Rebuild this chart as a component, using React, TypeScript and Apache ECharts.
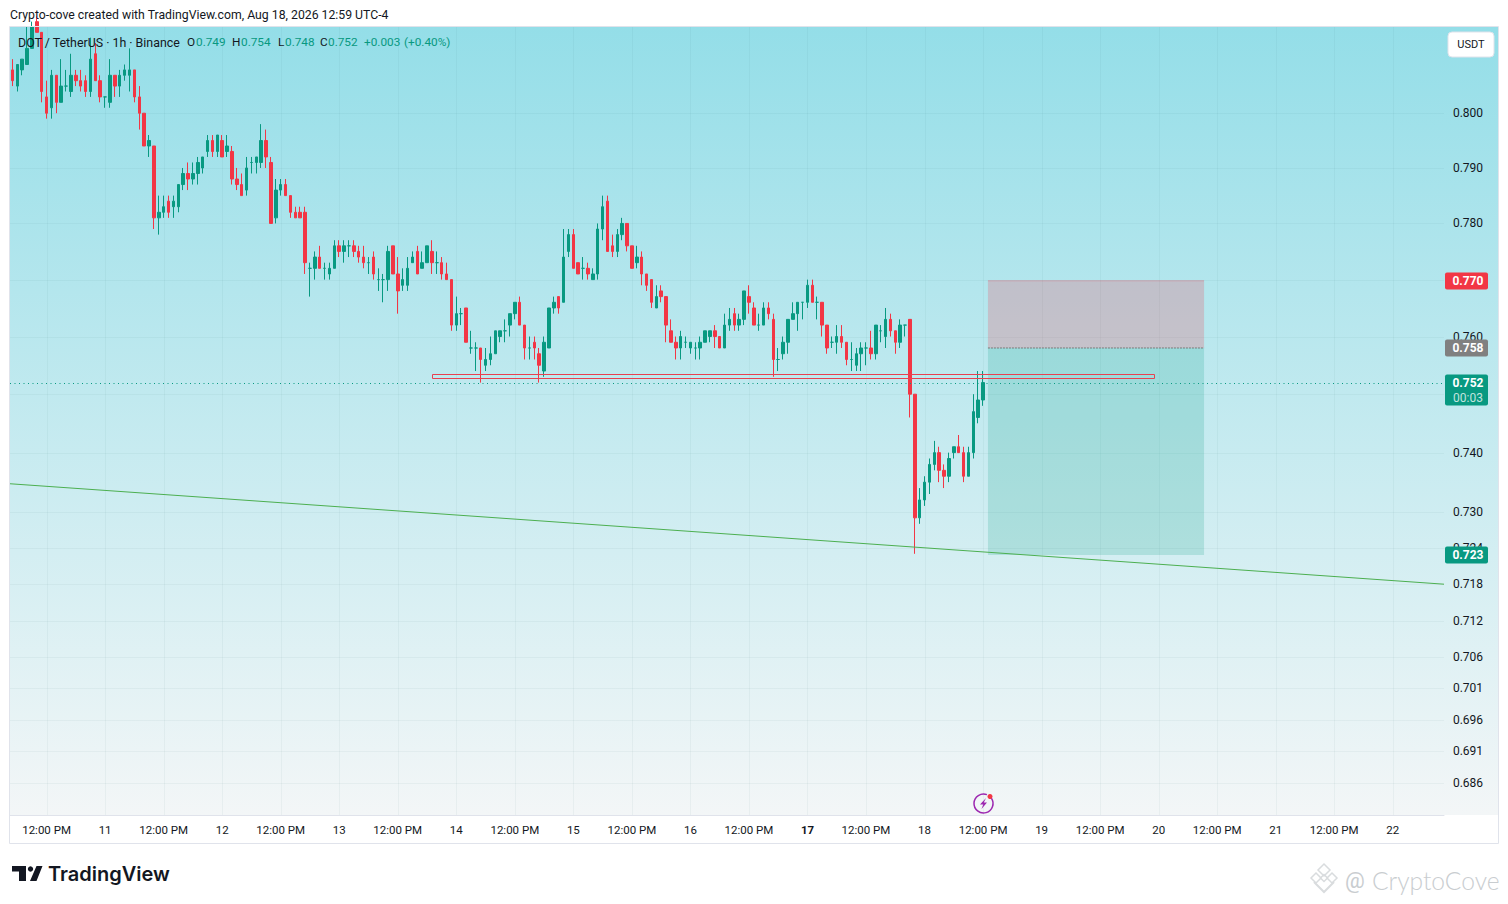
import React, { useEffect, useRef } from "react";
import * as echarts from "echarts";

// OHLC rows in thousandths of a USDT: [open, close, low, high]
const candlesA = [
  [808,806,805,810],[805,809,804,809],[808,810,807,810],[809,812,809,816],[812,816,812,817],[817,815,815,818],
  [815,804,802,815],[803,800,799,806],[801,807,799,808],[807,802,800,807],[802,805,802,810],[805,805,804,808],
  [804,807,803,811],[807,806,805,808],[806,805,804,808],[806,804,803,807],[804,810,803,814],[811,806,806,813],
  [806,803,802,807],[803,803,801,803],[802,807,801,810],[807,805,803,807],[805,807,803,808],[807,808,806,809],
  [807,808,804,812],[808,803,802,808],[803,800,797,805],[800,794,794,800],[794,795,792,796],[794,781,779,794],
  [781,782,778,785],[782,783,781,785],[784,782,781,785],[783,784,781,785],
];
const candlesB = [
  [783,787,782,787],[787,789,786,790],[789,788,786,791],[788,789,787,791],[789,791,787,792],[790,792,789,792],
  [793,795,792,796],[795,793,792,796],[793,796,792,796],[795,792,792,796],[793,794,792,796],[793,788,787,794],
  [788,787,786,790],[787,785,785,789],[786,790,785,792],[791,791,789,792],[791,792,789,792],[791,795,790,798],
  [795,792,790,797],[791,780,780,792],[781,786,780,788],[786,787,785,788],[787,785,785,788],[785,782,781,785],
  [782,781,781,783],[782,781,781,783],[782,773,771,783],[772,772,767,773],[772,774,770,775],[774,772,772,776],
  [772,772,770,773],[771,772,770,773],[772,776,772,777],[776,775,774,777],
];
const candlesC = [
  [775,776,773,777],[776,776,774,777],[776,775,774,777],[775,774,773,776],[774,773,772,776],[773,773,771,774],
  [774,771,770,775],[770,770,768,772],[770,770,766,771],[770,775,768,776],[776,771,771,776],[771,768,764,774],
  [769,770,768,772],[769,772,768,774],[773,774,773,775],[775,771,771,776],[772,773,772,775],[773,776,773,776],
  [775,773,771,777],[773,773,771,775],[773,771,770,774],[771,770,770,773],[770,762,761,770],[762,764,761,767],
  [764,764,762,765],[765,759,759,765],[758,758,757,761],[758,758,754,759],[758,756,752,758],[755,756,754,758],
  [756,757,755,760],[757,761,757,761],[760,761,759,761],[761,761,759,763],
];
const candlesD = [
  [762,764,760,764],[764,766,763,766],[766,762,762,767],[762,758,756,762],[758,758,756,760],[759,758,756,760],
  [757,755,752,758],[754,759,753,760],[758,765,758,765],[765,766,764,767],[767,765,764,767],[766,774,766,779],
  [775,778,774,779],[778,772,772,779],[773,771,771,773],[772,772,770,774],[772,771,770,773],[770,771,770,772],
  [771,779,770,780],[779,783,777,785],[784,775,775,785],[776,775,774,778],[775,778,774,779],[778,780,777,781],
  [780,776,775,780],[776,772,772,776],[773,774,772,776],[774,771,769,775],[771,769,768,771],[770,766,765,770],
  [765,767,765,769],[768,767,766,769],[767,762,759,767],
];
const candlesE = [
  [761,759,759,763],[759,758,756,760],[758,760,756,761],[759,759,758,760],[758,759,757,759],[758,758,756,759],
  [758,759,756,760],[759,761,759,761],[760,761,759,761],[761,760,758,762],[760,758,758,760],[758,762,758,764],
  [762,763,761,765],[764,762,761,765],[762,763,761,764],[763,768,762,768],[767,766,764,769],[765,762,762,766],
  [762,762,761,764],[762,765,762,766],[765,764,763,766],[763,756,753,764],[756,756,754,758],[757,759,756,760],
  [759,763,757,763],[763,764,763,766],[764,766,761,766],[766,766,763,766],[766,769,765,770],[769,766,766,770],
  [766,766,763,767],[766,762,760,766],[762,758,757,762],[759,759,758,760],
];
const candlesF = [
  [759,760,757,762],[760,759,758,762],[759,756,755,759],[756,756,754,759],[755,757,754,758],[757,758,754,759],
  [758,758,755,759],[758,757,756,761],[757,762,756,762],[761,761,759,762],[760,763,758,765],[763,761,760,764],
  [761,759,757,761],[759,762,758,763],[762,762,760,762],[763,750,746,763],[750,729,723,750],[729,732,728,734],
  [732,735,731,736],[735,738,733,739],[738,740,737,742],[740,737,735,741],[737,736,734,738],[736,739,735,740],
  [740,741,739,741],[741,740,740,743],[740,736,735,741],[736,740,736,741],[740,747,739,750],[746,749,745,754],
  [749,752,748,754],
];

const gridPrices = [0.8, 0.79, 0.78, 0.77, 0.76, 0.75, 0.74, 0.73, 0.724, 0.718, 0.712, 0.706, 0.701, 0.696, 0.691, 0.686];
// 0.770 and 0.750 sit fully behind the price tags in the reference, so only their grid lines show.
const hiddenTickLabels = [0.77, 0.75];
const xTickLabels = [
  "12:00 PM","11","12:00 PM","12","12:00 PM","13","12:00 PM","14","12:00 PM","15","12:00 PM","16",
  "12:00 PM","17","12:00 PM","18","12:00 PM","19","12:00 PM","20","12:00 PM","21","12:00 PM","22",
];
const firstTickIndex = 7;
const tickEvery = 12;
const slotCount = 294;

const lastPrice = 0.752;
const stopPrice = 0.7698;
const entryPrice = 0.758;
const targetPrice = 0.7228;
const trendStart = [0, 0.7347];
const trendEnd = [293, 0.718];
const zoneBounds = { from: 86, to: 234, top: 0.7534, bottom: 0.7527 };
const positionBounds = { from: 200, to: 244 };
const priceTags = [
  { price: stopPrice, label: "0.770", color: "#f23645" },
  { price: entryPrice, label: "0.758", color: "#808080" },
  { price: lastPrice, label: "0.752", sub: "00:03", color: "#089981" },
  { price: targetPrice, label: "0.723", color: "#089981" },
];
const legendTexts = [
  { x: 187, text: "O", fill: "#131722" }, { x: 196, text: "0.749", fill: "#089981" },
  { x: 232, text: "H", fill: "#131722" }, { x: 241, text: "0.754", fill: "#089981" },
  { x: 278, text: "L", fill: "#131722" }, { x: 285, text: "0.748", fill: "#089981" },
  { x: 320, text: "C", fill: "#131722" }, { x: 328, text: "0.752", fill: "#089981" },
  { x: 364, text: "+0.003", fill: "#089981" }, { x: 404, text: "(+0.40%)", fill: "#089981" },
];

const FONT = "Roboto, 'Noto Sans', sans-serif";
const UP = "#089981";
const DOWN = "#f23645";
const GRID_TOP = 27;
const GRID_LEFT = 10;
const GRID_RIGHT = 1444;
const GRID_BOTTOM = 815;
const GRID_LINE = "rgba(42,90,100,0.05)";
const WATERMARK = "#c9cdd0";

function categories(): string[] {
  const out: string[] = [];
  for (let i = 0; i < slotCount; i++) {
    const h = i + 5;
    const day = 10 + Math.floor(h / 24);
    out.push(`Aug ${day} ${String(h % 24).padStart(2, "0")}:00`);
  }
  return out;
}

const tvMark = "M12 866 H26 V881 H19 V871.5 H12 Z M36.5 866 H42.5 L36.5 881 H30 Z";

export default function App() {
  const ref = useRef<HTMLDivElement>(null);
  useEffect(() => {
    document.body.style.margin = "0";
    echarts.graphic.registerShape("tvmark", echarts.graphic.extendPath(tvMark, {}) as any);
    const chart = echarts.init(ref.current!, undefined, { renderer: "svg" });
    const candles = [...candlesA, ...candlesB, ...candlesC, ...candlesD, ...candlesE, ...candlesF]
      .map((r) => r.map((v) => v / 1000));
    const xGridIdx = xTickLabels.map((_, i) => firstTickIndex + i * tickEvery);

    const grad = new echarts.graphic.LinearGradient(0, 0, 0, 1, [
      { offset: 0, color: "#94dee8" },
      { offset: 1, color: "#f3f6f7" },
    ]);

    const text = (x: number, y: number, t: string, fill: string, font: string, align = "left", z = 20) => ({
      type: "text", x, y, z,
      style: { text: t, fill, font, align, verticalAlign: "middle" },
    });
    const diamond = (cx: number, cy: number, r: number) => ({
      type: "polygon", z: 20,
      shape: { points: [[cx, cy - r], [cx + r, cy], [cx, cy + r], [cx - r, cy]] },
      style: { fill: "none", stroke: "#d9dcde", lineWidth: 1.5 },
    });

    const option: any = {
      animation: false,
      grid: { left: GRID_LEFT, top: GRID_TOP, width: GRID_RIGHT - GRID_LEFT, height: GRID_BOTTOM - GRID_TOP },
      xAxis: {
        type: "category",
        data: categories(),
        boundaryGap: true,
        axisLine: { lineStyle: { color: "#e0e3eb" } },
        axisTick: { show: false },
        splitLine: { show: false },
        axisLabel: {
          interval: (i: number) => i >= firstTickIndex && (i - firstTickIndex) % tickEvery === 0 && (i - firstTickIndex) / tickEvery < xTickLabels.length,
          formatter: (_: string, i: number) => {
            const l = xTickLabels[(i - firstTickIndex) / tickEvery] ?? "";
            return l === "17" ? `{b|${l}}` : l;
          },
          rich: { b: { fontFamily: FONT, fontSize: 11.5, fontWeight: "bold", color: "#131722" } },
          color: "#131722", fontFamily: FONT, fontSize: 11.5, margin: 9, hideOverlap: false,
        },
      },
      yAxis: {
        type: "log", logBase: 10, min: 0.6809, max: 0.816, position: "right",
        axisLine: { show: false }, axisTick: { show: false }, axisLabel: { show: false }, splitLine: { show: false },
      },
      graphic: {
        elements: [
          { type: "rect", z: -5, shape: { x: GRID_LEFT, y: GRID_TOP, width: 1488, height: GRID_BOTTOM - GRID_TOP }, style: { fill: grad } },
          { type: "rect", z: 19, shape: { x: 9.5, y: 26.5, width: 1489, height: 817 }, style: { fill: "none", stroke: "#e0e3eb", lineWidth: 1 } },
          text(10, 15, "Crypto-cove created with TradingView.com, Aug 18, 2026 12:59 UTC-4", "#131722", `12.25px ${FONT}`),
          text(18, 42, "DOT / TetherUS · 1h · Binance", "#131722", `12.4px ${FONT}`),
          ...legendTexts.map((t) => text(t.x, 42, t.text, t.fill, `11.8px ${FONT}`)),
          { type: "rect", z: 20, shape: { x: 1448, y: 32, width: 46, height: 25, r: 4 }, style: { fill: "#ffffff", stroke: "#e0e3eb" } },
          text(1471, 44.5, "USDT", "#131722", `11px ${FONT}`, "center", 21),
          { type: "arc", z: 20, shape: { cx: 983.5, cy: 803.5, r: 9.5, startAngle: -0.6, endAngle: -1.2, clockwise: true }, style: { fill: "none", stroke: "#9c27b0", lineWidth: 1.5 } },
          { type: "polygon", z: 20, shape: { points: [[986, 798], [980, 804.5], [983.2, 804.5], [981.5, 809], [987, 802.5], [983.8, 802.5]] }, style: { fill: "#9c27b0" } },
          { type: "circle", z: 21, shape: { cx: 990, cy: 796.5, r: 2.5 }, style: { fill: "#f23645" } },
          { type: "tvmark", z: 20, style: { fill: "#131722" } },
          { type: "circle", z: 20, shape: { cx: 30.5, cy: 869, r: 2.7 }, style: { fill: "#131722" } },
          text(48, 874, "TradingView", "#131722", `600 20px Inter, ${FONT}`),
          diamond(1324, 870, 6), diamond(1316, 878, 5), diamond(1332, 878, 5), diamond(1324, 878, 3.5),
          { type: "polyline", z: 20, shape: { points: [[1314, 882], [1324, 892], [1334, 882]] }, style: { fill: "none", stroke: "#d9dcde", lineWidth: 2 } },
          text(1345, 880, "@", WATERMARK, `22px ${FONT}`),
          text(1372, 880, "CryptoCove", WATERMARK, `300 24.6px Lato, ${FONT}`),
        ],
      },
      series: [
        {
          type: "custom", name: "timeGrid", z: 1, silent: true,
          data: xGridIdx.map((i) => [i, 0.75]),
          renderItem: (params: any, api: any) => {
            const x = Math.round(api.coord([api.value(0), 0.75])[0]) + 0.5;
            return { type: "line", shape: { x1: x, y1: GRID_TOP, x2: x, y2: GRID_BOTTOM }, style: { stroke: GRID_LINE, lineWidth: 1 } };
          },
        },
        {
          type: "custom", name: "priceScale", z: 1, silent: true,
          data: gridPrices.map((p) => [0, p]),
          renderItem: (params: any, api: any) => {
            const p = api.value(1);
            const y = Math.round(api.coord([0, p])[1]) + 0.5;
            const children: any[] = [
              { type: "line", shape: { x1: GRID_LEFT, y1: y, x2: GRID_RIGHT, y2: y }, style: { stroke: GRID_LINE, lineWidth: 1 } },
            ];
            if (!hiddenTickLabels.includes(p)) {
              children.push({ type: "text", x: 1468, y: y - 0.2, style: { text: p.toFixed(3), fill: "#131722", font: `12px ${FONT}`, align: "center", verticalAlign: "middle" } });
            }
            return { type: "group", children };
          },
        },
        {
          type: "candlestick", name: "DOT / TetherUS", z: 3, barWidth: 3, data: candles,
          itemStyle: { color: UP, color0: DOWN, borderColor: UP, borderColor0: DOWN, borderColorDoji: UP, borderWidth: 1 },
        },
        {
          type: "custom", name: "position", z: 2, silent: true,
          data: [[positionBounds.from, stopPrice]],
          renderItem: (params: any, api: any) => {
            const [x1, yS] = api.coord([positionBounds.from, stopPrice]);
            const [x2, yE] = api.coord([positionBounds.to, entryPrice]);
            const yT = api.coord([positionBounds.from, targetPrice])[1];
            return {
              type: "group",
              children: [
                { type: "rect", shape: { x: x1, y: yS, width: x2 - x1 + 1.5, height: yE - yS }, style: { fill: "rgba(242,54,69,0.21)" } },
                { type: "rect", shape: { x: x1, y: yE, width: x2 - x1 + 1.5, height: yT - yE }, style: { fill: "rgba(8,153,129,0.18)" } },
                { type: "line", shape: { x1, y1: yS, x2: x2 + 1.5, y2: yS }, style: { stroke: "rgba(242,54,69,0.3)", lineWidth: 1 } },
                { type: "line", shape: { x1, y1: yE, x2: x2 + 1.5, y2: yE }, style: { stroke: "#7a7a7a", lineWidth: 1, lineDash: [2, 1] } },
              ],
            };
          },
        },
        {
          type: "custom", name: "zone", z: 4, silent: true,
          data: [[zoneBounds.from, zoneBounds.top]],
          renderItem: (params: any, api: any) => {
            const a = api.coord([zoneBounds.from, zoneBounds.top]);
            const b = api.coord([zoneBounds.to, zoneBounds.bottom]);
            return { type: "rect", shape: { x: Math.round(a[0]) + 0.5, y: Math.round(a[1]) + 0.5, width: Math.round(b[0] - a[0]), height: Math.max(4, Math.round(b[1] - a[1])) }, style: { fill: "none", stroke: "#e8414f", lineWidth: 1 } };
          },
        },
        {
          type: "custom", name: "trend", z: 4, silent: true,
          data: [trendStart],
          renderItem: (params: any, api: any) => {
            const a = api.coord(trendStart);
            const b = api.coord(trendEnd);
            const cs = params.coordSys;
            const slope = (b[1] - a[1]) / (b[0] - a[0]);
            const x1 = cs.x;
            const x2 = cs.x + cs.width;
            return { type: "line", shape: { x1, y1: a[1] + (x1 - a[0]) * slope, x2, y2: a[1] + (x2 - a[0]) * slope }, style: { stroke: "#4caf50", lineWidth: 1 } };
          },
        },
        {
          type: "custom", name: "lastPriceLine", z: 4, silent: true,
          data: [[0, lastPrice]],
          renderItem: (params: any, api: any) => {
            const y = Math.round(api.coord([0, lastPrice])[1]) + 0.5;
            return { type: "line", shape: { x1: GRID_LEFT, y1: y, x2: GRID_RIGHT, y2: y }, style: { stroke: UP, lineWidth: 1, lineDash: [1, 3.5] } };
          },
        },
        {
          type: "custom", name: "tags", z: 6, silent: true,
          data: priceTags.map((t) => [0, t.price]),
          renderItem: (params: any, api: any) => {
            const t = priceTags[params.dataIndex];
            const y = Math.round(api.coord([0, t.price])[1]);
            const children: any[] = [
              { type: "rect", shape: { x: 1445, y: y - 8.5, width: 43, height: t.sub ? 31 : 17, r: 2 }, style: { fill: t.color } },
              { type: "text", x: 1468, y: y, style: { text: t.label, fill: "#ffffff", font: `bold 12px ${FONT}`, align: "center", verticalAlign: "middle" } },
            ];
            if (t.sub) {
              children.push({ type: "text", x: 1468, y: y + 15, style: { text: t.sub, fill: "rgba(255,255,255,0.75)", font: `12px ${FONT}`, align: "center", verticalAlign: "middle" } });
            }
            return { type: "group", children };
          },
        },
      ],
    };
    chart.setOption(option);
    return () => chart.dispose();
  }, []);
  return <div ref={ref} style={{ position: "absolute", left: 0, top: 0, width: 1508, height: 904, background: "#ffffff" }} />;
}
